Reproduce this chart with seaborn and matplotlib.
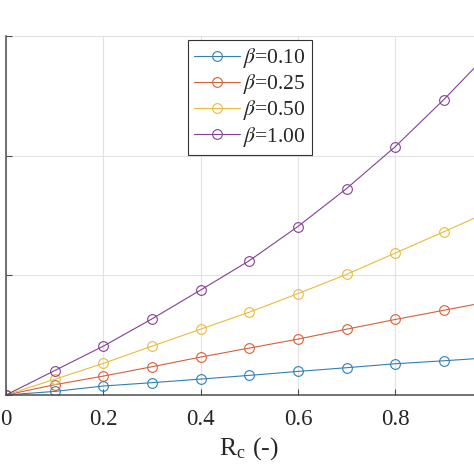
import numpy as np
import pandas as pd
import seaborn as sns
import matplotlib.pyplot as plt

# values
rc = [0.0, 0.1, 0.2, 0.3, 0.4, 0.5, 0.6, 0.7, 0.8, 0.9, 1.0]
beta_labels = [r"$\beta$=0.10", r"$\beta$=0.25", r"$\beta$=0.50", r"$\beta$=1.00"]
y_b010 = [0.0, 0.030, 0.075, 0.103, 0.133, 0.164, 0.197, 0.228, 0.261, 0.286, 0.313]
y_b025 = [0.0, 0.086, 0.158, 0.236, 0.317, 0.392, 0.467, 0.550, 0.631, 0.708, 0.785]
y_b050 = [0.0, 0.131, 0.264, 0.408, 0.550, 0.692, 0.847, 1.008, 1.186, 1.364, 1.545]
y_b100 = [0.0, 0.204, 0.408, 0.636, 0.877, 1.122, 1.408, 1.725, 2.075, 2.469, 2.890]
colors = ["#2f80b4", "#d5603a", "#e9bb3c", "#834193"]

sns.set_style("white")
plt.rcParams["font.family"] = ["Liberation Serif", "DejaVu Serif"]
plt.rcParams["mathtext.fontset"] = "stix"

fig = plt.figure(figsize=(4.74, 4.74), dpi=100)
ax = fig.add_axes([6 / 474, 79 / 474, 486.5 / 474, 359 / 474])

for ys, lab, c in zip([y_b010, y_b025, y_b050, y_b100], beta_labels, colors):
    sns.lineplot(x=rc, y=ys, color=c, label=lab, marker="o", markersize=7,
                 markerfacecolor="none", markeredgecolor=c, markeredgewidth=0.8,
                 linewidth=0.8, ax=ax, sort=False, estimator=None)

ax.set_xlim(0, 1)
ax.set_ylim(0, 3)
ax.set_xticks([0, 0.2, 0.4, 0.6, 0.8, 1.0])
ax.set_xticklabels(["0", "0.2", "0.4", "0.6", "0.8", ""])
ax.set_yticks([0, 1, 2, 3])
ax.set_yticklabels([])
ax.grid(True, color="#e2e2e2", linewidth=0.8)
ax.set_axisbelow(True)
for s in ["top", "right"]:
    ax.spines[s].set_visible(False)
for s in ["left", "bottom"]:
    ax.spines[s].set_color("#4d4d4d")
    ax.spines[s].set_linewidth(1.1)
ax.tick_params(direction="in", length=4, width=0.8, color="#4d4d4d",
               labelsize=16.5, pad=10, bottom=True, left=True)
ax.set_xlabel(r"R$_\mathregular{c}$ (-)", fontsize=18.5, labelpad=4)
ax.set_ylabel("")

leg = ax.legend(loc="upper left", bbox_to_anchor=(0.374, 0.99), borderaxespad=0,
                fontsize=15.5, frameon=True, fancybox=False, framealpha=1,
                edgecolor="#333333", handlelength=2.1, labelspacing=0.1,
                handletextpad=0.15, borderpad=0.3)
leg.get_frame().set_linewidth(0.8)

fig.savefig("out.png", dpi=100)
